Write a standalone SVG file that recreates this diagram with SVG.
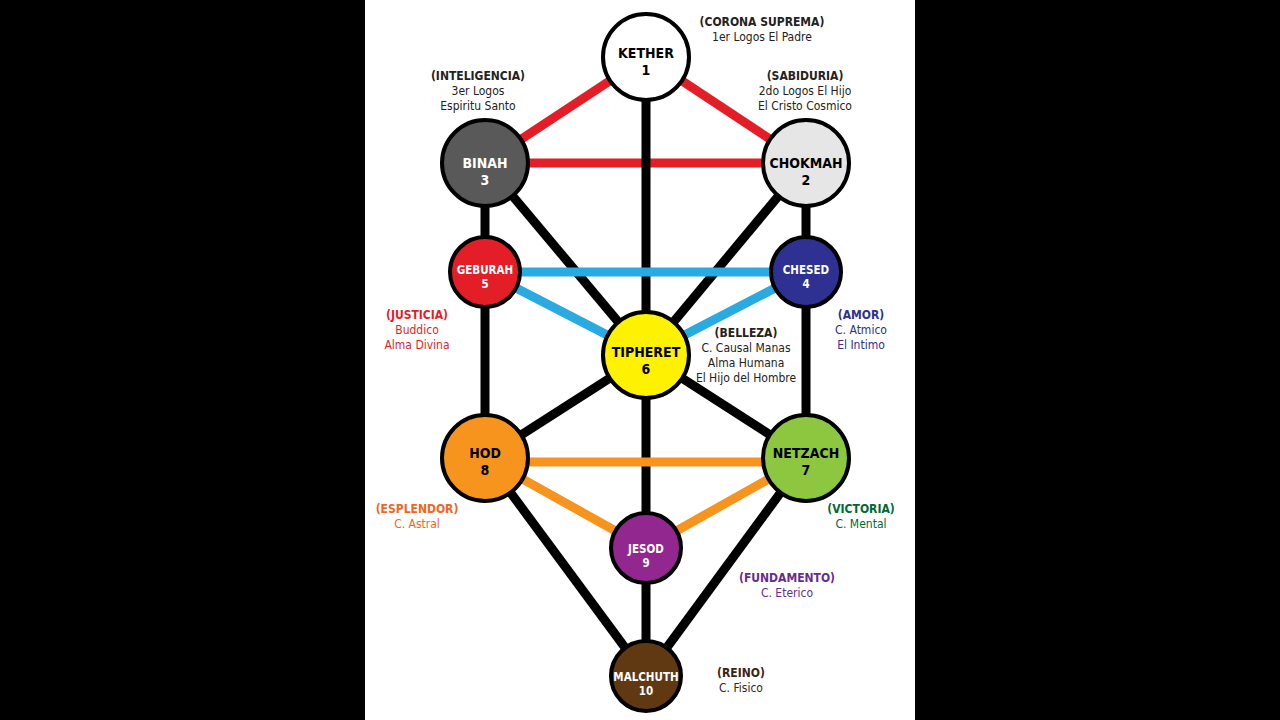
<svg xmlns="http://www.w3.org/2000/svg" width="1280" height="720" viewBox="0 0 1280 720">
<style>
.n{stroke:#000;stroke-width:4}
.t{font-family:"DejaVu Sans Condensed","DejaVu Sans",sans-serif;font-weight:bold;font-size:14px;text-anchor:middle}
.ts{font-family:"DejaVu Sans Condensed","DejaVu Sans",sans-serif;font-weight:bold;font-size:11.5px;text-anchor:middle}
.l{font-family:"DejaVu Sans Condensed","DejaVu Sans",sans-serif;font-size:12px;text-anchor:middle}
.lb{font-weight:bold}
.k{stroke:#000;stroke-width:9}
.r{stroke:#e31e26;stroke-width:9}
.b{stroke:#29aae1;stroke-width:9}
.o{stroke:#f7941d;stroke-width:9}
</style>
<rect width="1280" height="720" fill="#000"/>
<rect x="365" y="0" width="550" height="720" fill="#fff"/>
<g id="connectors">
<line class="r" x1="646" y1="57" x2="485" y2="163"/>
<line class="r" x1="646" y1="57" x2="806" y2="163"/>
<line class="r" x1="485" y1="163" x2="806" y2="163"/>
<line class="k" x1="646" y1="57" x2="646" y2="676"/>
<line class="k" x1="485" y1="163" x2="485" y2="458"/>
<line class="k" x1="806" y1="163" x2="806" y2="458"/>
<line class="k" x1="485" y1="163" x2="646" y2="355"/>
<line class="k" x1="806" y1="163" x2="646" y2="355"/>
<line class="b" x1="485" y1="272" x2="806" y2="272"/>
<line class="b" x1="485" y1="272" x2="646" y2="355"/>
<line class="b" x1="806" y1="272" x2="646" y2="355"/>
<line class="k" x1="646" y1="355" x2="485" y2="458"/>
<line class="k" x1="646" y1="355" x2="806" y2="458"/>
<line class="o" x1="485" y1="462" x2="806" y2="462"/>
<line class="o" x1="485" y1="458" x2="646" y2="548"/>
<line class="o" x1="806" y1="458" x2="646" y2="548"/>
<line class="k" x1="485" y1="458" x2="646" y2="676"/>
<line class="k" x1="806" y1="458" x2="646" y2="676"/>
</g>
<g id="kether"><circle class="n" cx="646" cy="57" r="43" fill="#fff"/><text class="t" x="646" y="58">KETHER</text><text class="t" x="646" y="75">1</text></g>
<g id="binah"><circle class="n" cx="485" cy="163" r="43" fill="#595959"/><text class="t" x="485" y="168" fill="#fff">BINAH</text><text class="t" x="485" y="185" fill="#fff">3</text></g>
<g id="chokmah"><circle class="n" cx="806" cy="163" r="43" fill="#e6e6e6"/><text class="t" x="806" y="168">CHOKMAH</text><text class="t" x="806" y="185">2</text></g>
<g id="geburah"><circle class="n" cx="485" cy="272" r="35" fill="#e31e26"/><text class="ts" x="485" y="274" fill="#fff">GEBURAH</text><text class="ts" x="485" y="288" fill="#fff">5</text></g>
<g id="chesed"><circle class="n" cx="806" cy="272" r="35" fill="#2e3192"/><text class="ts" x="806" y="274" fill="#fff">CHESED</text><text class="ts" x="806" y="288" fill="#fff">4</text></g>
<g id="tiphereth"><circle class="n" cx="646" cy="355" r="43" fill="#fff200"/><text class="t" x="646" y="357">TIPHERET</text><text class="t" x="646" y="374">6</text></g>
<g id="hod"><circle class="n" cx="485" cy="458" r="43" fill="#f7941d"/><text class="t" x="485" y="458">HOD</text><text class="t" x="485" y="475">8</text></g>
<g id="netzach"><circle class="n" cx="806" cy="458" r="43" fill="#8dc63f"/><text class="t" x="806" y="458">NETZACH</text><text class="t" x="806" y="475">7</text></g>
<g id="jesod"><circle class="n" cx="646" cy="548" r="35" fill="#92278f"/><text class="ts" x="646" y="553" fill="#fff">JESOD</text><text class="ts" x="646" y="567" fill="#fff">9</text></g>
<g id="malchuth"><circle class="n" cx="646" cy="676" r="35" fill="#603913"/><text class="ts" x="646" y="681" fill="#fff">MALCHUTH</text><text class="ts" x="646" y="695" fill="#fff">10</text></g>
<g id="labels">
<text class="l" x="762" y="26" fill="#222"><tspan class="lb">(CORONA SUPREMA)</tspan><tspan x="762" dy="15">1er Logos El Padre</tspan></text>
<text class="l" x="478" y="80" fill="#222"><tspan class="lb">(INTELIGENCIA)</tspan><tspan x="478" dy="15">3er Logos</tspan><tspan x="478" dy="15">Espiritu Santo</tspan></text>
<text class="l" x="805" y="80" fill="#222"><tspan class="lb">(SABIDURIA)</tspan><tspan x="805" dy="15">2do Logos El Hijo</tspan><tspan x="805" dy="15">El Cristo Cosmico</tspan></text>
<text class="l" x="417" y="319" fill="#e31e26"><tspan class="lb">(JUSTICIA)</tspan><tspan x="417" dy="15">Buddico</tspan><tspan x="417" dy="15">Alma Divina</tspan></text>
<text class="l" x="861" y="319" fill="#2e3192"><tspan class="lb">(AMOR)</tspan><tspan x="861" dy="15">C. Atmico</tspan><tspan x="861" dy="15">El Intimo</tspan></text>
<text class="l" x="746" y="337" fill="#222"><tspan class="lb">(BELLEZA)</tspan><tspan x="746" dy="15">C. Causal Manas</tspan><tspan x="746" dy="15">Alma Humana</tspan><tspan x="746" dy="15">El Hijo del Hombre</tspan></text>
<text class="l" x="417" y="513" fill="#f26522"><tspan class="lb">(ESPLENDOR)</tspan><tspan x="417" dy="15">C. Astral</tspan></text>
<text class="l" x="861" y="513" fill="#006838"><tspan class="lb">(VICTORIA)</tspan><tspan x="861" dy="15">C. Mental</tspan></text>
<text class="l" x="787" y="582" fill="#662d91"><tspan class="lb">(FUNDAMENTO)</tspan><tspan x="787" dy="15">C. Eterico</tspan></text>
<text class="l" x="741" y="677" fill="#3c2415"><tspan class="lb">(REINO)</tspan><tspan x="741" dy="15">C. Fisico</tspan></text>
</g>
</svg>
